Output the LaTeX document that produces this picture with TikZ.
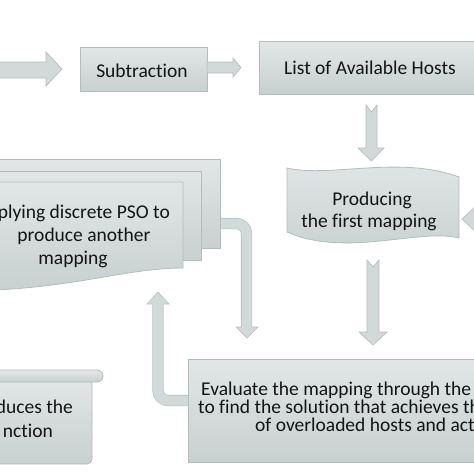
\documentclass[tikz,border=0pt]{standalone}
\usepackage{fontspec}
\setmainfont{Carlito}[Ligatures={NoCommon,NoRare}]
\definecolor{btop}{HTML}{E2E6E6}
\definecolor{bbot}{HTML}{C8D0D0}
\definecolor{bedge}{HTML}{B4BDBD}
\definecolor{afill}{HTML}{D2D9D9}
\definecolor{aedge}{HTML}{B6BFBF}
\definecolor{txt}{HTML}{141414}
\begin{document}
\begin{tikzpicture}[x=1pt,y=-1pt,
  box/.style={draw=bedge, line width=0.8pt, top color=btop, bottom color=bbot},
  rectbox/.style={box, rectangle, inner sep=0pt},
  blockarrow/.style={draw=aedge, line width=0.7pt, fill=afill},
  arrowhead/.style={fill=afill},
  lbl/.style={font=\fontsize{19.5}{22}\selectfont, text=txt, inner sep=0pt},
  shaft/.style={draw=aedge, double=afill, double distance=10pt, line width=0.6pt, rounded corners=10pt}]
\useasboundingbox (0,0) rectangle (474,474);
\clip (0,0) rectangle (474,474);
\fill[white] (0,0) rectangle (474,474);

% --- top row ---
\path[blockarrow] (-2,62) -- (46,62) -- (46,52) -- (62,69) -- (46,86) -- (46,78) -- (-2,78) -- cycle;
\node[rectbox, minimum width=127pt, minimum height=44pt] (sub) at (143.5,69) {};
\node[lbl, anchor=base] (subt) at (142,77) {Subtraction};
\path[blockarrow] (207,62) -- (233,62) -- (233,58) -- (241,67.5) -- (233,77) -- (233,73) -- (207,73) -- cycle;
\node[rectbox, minimum width=222pt, minimum height=53pt] (list) at (370,67.5) {};
\node[lbl, anchor=base] (listt) at (370,74) {List of Available Hosts};

% --- arrow list -> producing ---
\path[blockarrow] (366,105) -- (371.5,112) -- (377,105) -- (377,148) -- (384,148) -- (371.5,161) -- (358,148) -- (366,148) -- cycle;

% --- producing (wave) ---
\path[box] (287,168) .. controls (330,178) and (400,155) .. (459,177) -- (459,238)
  .. controls (420,228) and (345,258) .. (287,232) -- cycle;
\node[lbl, anchor=base] (prod1) at (372,205) {Producing};
\node[lbl, anchor=base] (prod2) at (369,227) {the first mapping};
\path[blockarrow] (476,206) -- (462,219) -- (476,232) -- cycle;

% --- arrow producing -> evaluate ---
\path[blockarrow] (367,260) -- (373,267) -- (379,260) -- (379,332) -- (387,332) -- (373,345) -- (359,332) -- (367,332) -- cycle;

% --- elbow PSO -> down ---
\draw[shaft] (220,223.5) -- (246.5,223.5) -- (246.5,328);
\path[arrowhead] (236,327) -- (247,338) -- (258,327) -- cycle;
\draw[aedge, line width=0.6pt] (241,327) -- (236,327) -- (247,338) -- (258,327) -- (252,327);

% --- PSO stacked pages ---
\path[box] (-5,159) rectangle (220,248);
\path[box] (-5,171) rectangle (201,260);
\path[box] (-5,182) -- (183,182) -- (183,268) .. controls (130,268) and (80,286) .. (-5,290) -- cycle;
\node[lbl, anchor=base east] (pso1) at (170,218) {plying discrete PSO to};
\node[lbl, anchor=base] (pso2) at (84,241) {produce another};
\node[lbl, anchor=base] (pso3) at (73,264) {mapping};

% --- elbow evaluate -> up ---
\draw[shaft] (190,400.5) -- (158,400.5) -- (158,304);
\path[arrowhead] (147,304) -- (158,292) -- (169,304) -- cycle;
\draw[aedge, line width=0.6pt] (152.5,304) -- (147,304) -- (158,292) -- (169,304) -- (163.5,304);

% --- evaluate ---
\node[rectbox, minimum width=292pt, minimum height=103pt] (eval) at (334,410.5) {};
\node[lbl, anchor=base west] (ev1) at (201,395) {Evaluate the mapping through the};
\node[lbl, anchor=base west] (ev2) at (198,413) {to find the solution that achieves th};
\node[lbl, anchor=base west] (ev3) at (255,431) {of overloaded hosts and act};

% --- bottom-left box ---
\path[box, rounded corners=5pt] (-10,378) rectangle (92,464);
\path[box, rounded corners=6pt] (-10,370) rectangle (103,382);
\node[lbl, anchor=base east] (bl1) at (73,413) {duces the};
\node[lbl, anchor=base east] (bl2) at (53,437) {nction};
\end{tikzpicture}
\end{document}
